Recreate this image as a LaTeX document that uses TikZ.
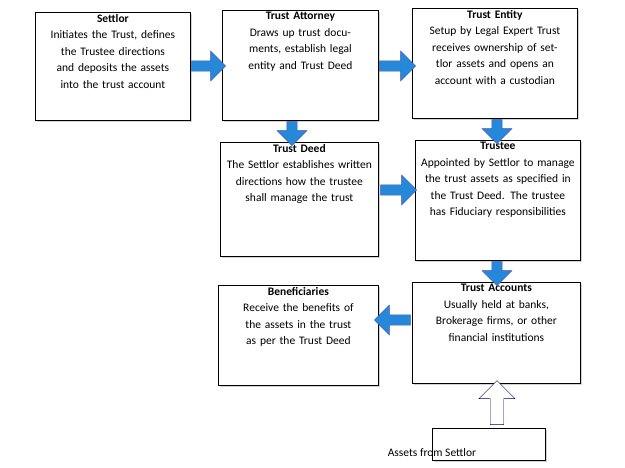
\documentclass[tikz,border=0pt]{standalone}
\usepackage{fontspec}
\setmainfont{Carlito}
\usetikzlibrary{shapes.arrows,shadows}
\tikzset{
  box/.style={draw,thick,fill=white,drop shadow={shadow xshift=2pt,shadow yshift=-2pt,opacity=.35},anchor=north west,inner sep=0pt},
  txt/.style={anchor=north,align=center,inner sep=2pt,font=\fontsize{11.5}{16.5}\selectfont},
  barrow/.style={single arrow,fill=blue!45!cyan!70!gray,draw=blue!40!gray,minimum height=#1,minimum width=30pt,single arrow head extend=6pt,inner sep=3pt},
  harrow/.style={single arrow,fill=white,draw=blue!40!black,minimum height=#1,minimum width=36pt,single arrow head extend=7pt,inner sep=4pt}
}
\begin{document}
\begin{tikzpicture}[x=1pt,y=-1pt]
\useasboundingbox (0,0) rectangle (625,467);
\node[box,minimum width=155,minimum height=108,label={[txt,text width=150]north:\textbf{Settlor}\\Initiates the Trust, defines the Trustee directions and deposits the assets into the trust account}] (settlor) at (35,12) {};
\node[box,minimum width=156,minimum height=110,label={[txt,text width=145]north:\textbf{Trust Attorney}\\Draws up trust documents, establish legal entity and Trust Deed}] (attorney) at (222,10) {};
\node[box,minimum width=165,minimum height=110,label={[txt,text width=160]north:\textbf{Trust Entity}\\\raggedright Setup by Legal Expert Trust receives ownership of settlor assets and opens an account with a custodian}] (entity) at (412,8) {};
\node[box,minimum width=158,minimum height=114,label={[txt,text width=150]north:\textbf{Trust Deed}\\The Settlor establishes written directions how the trustee shall manage the trust}] (deed) at (220,142) {};
\node[box,minimum width=165,minimum height=120,label={[txt,text width=155]north:\textbf{Trustee}\\\raggedright Appointed by Settlor to manage the trust assets as specified in the Trust Deed. The trustee has Fiduciary responsibilities}] (trustee) at (415,140) {};
\node[box,minimum width=160,minimum height=100,label={[txt,text width=155]north:\textbf{Beneficiaries}\\Receive the benefits of the assets in the trust as per the Trust Deed}] (benef) at (218,285) {};
\node[box,minimum width=168,minimum height=101,label={[txt,text width=150]north:\textbf{Trust Accounts}\\Usually held at banks, Brokerage firms, or other financial institutions}] (accounts) at (412,282) {};
\node[box,thin,minimum width=113,minimum height=32,label={[txt,align=left,inner sep=4pt]west:Assets from Settlor}] (assets) at (432,428) {};
% block arrows
\node[barrow=34] (a1) at (206,66) {};
\node[barrow=36] (a2) at (395,66) {};
\node[barrow=24,rotate=-90] (a3) at (292,131) {};
\node[barrow=24,rotate=-90] (a4) at (497,129) {};
\node[barrow=36] (a5) at (396,190) {};
\node[barrow=24,rotate=-90] (a6) at (497,271) {};
\node[barrow=36,rotate=180] (a7) at (395,320) {};
\node[harrow=44,rotate=90] (a8) at (497,406) {};
\end{tikzpicture}
\end{document}
